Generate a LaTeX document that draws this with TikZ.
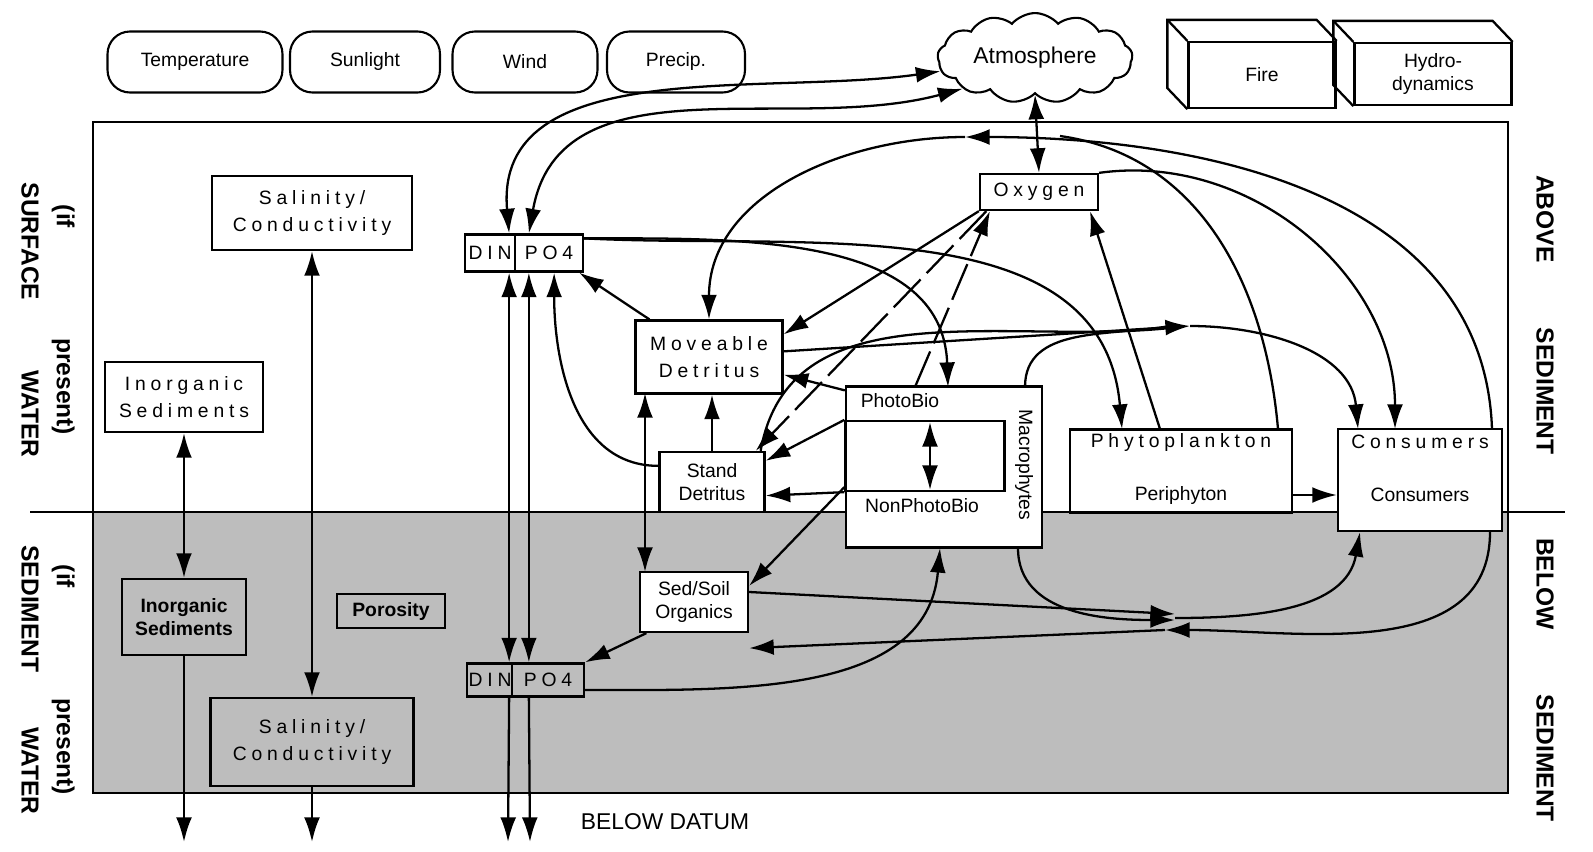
\documentclass[tikz,border=0pt]{standalone}
\usepackage{fontspec}
\setmainfont{Liberation Sans}
\usetikzlibrary{shapes.symbols, arrows.meta, positioning}
\definecolor{sedgray}{HTML}{BDBDBD}
\tikzstyle{driver} = [draw, line width=1.2pt, rounded corners=0.45cm, align=center, font=\fontsize{11}{13}\selectfont]
\tikzstyle{pool} = [draw, line width=1.3pt, fill=white, inner sep=1pt, align=center, font=\fontsize{11}{13}\selectfont]
\tikzstyle{spaced} = [font=\fontsize{11}{15}\selectfont\addfontfeatures{LetterSpace=25}]
\tikzstyle{side} = [rotate=-90, font=\bfseries\fontsize{14}{20}\selectfont, align=center]
\tikzstyle{flow} = [line width=1.3pt, ->, >={Latex[length=14pt,width=9pt]}]
\tikzstyle{both} = [line width=1.3pt, <->, >={Latex[length=14pt,width=9pt]}]
\tikzstyle{line} = [line width=1.3pt]
\begin{document}
\begin{tikzpicture}[x=0.02cm, y=-0.02cm]
\useasboundingbox (0,0) rectangle (1593,852);
% background regions
\fill[sedgray] (93,512) rectangle (1508,793);
\draw[line width=1.3pt] (93,122) rectangle (1508,793);
\draw[line width=1.3pt] (30,512) -- (1565,512);
% drivers
\node (temp) [driver, minimum width=3.5cm, minimum height=1.22cm] at (195,62) {Temperature};
\node (sun) [driver, minimum width=3cm, minimum height=1.22cm] at (365,62) {Sunlight};
\node (wind) [driver, minimum width=2.9cm, minimum height=1.22cm] at (525,62) {Wind};
\node (precip) [driver, minimum width=2.76cm, minimum height=1.22cm] at (676,62) {Precip.};
\node (atmos) [cloud, draw, line width=1.2pt, cloud puffs=13, cloud puff arc=100, aspect=2.4, minimum width=3.9cm, minimum height=1.7cm, inner sep=0pt, font=\fontsize{13}{15}\selectfont] at (1035,58) {Atmosphere};
\node (fire) [pool, minimum width=2.94cm, minimum height=1.32cm] at (1262,75) {Fire};
\node (hydro) [pool, minimum width=3.14cm, minimum height=1.24cm] at (1433,74) {Hydro-\\dynamics};
\draw[line width=1.3pt] (fire.south west) -- ++(-20,-21) |- ([shift={(-20,-21)}]fire.north east) -- (fire.north east);
\draw[line width=1.3pt] (fire.north west) -- ++(-20,-21);
\draw[line width=1.3pt] (hydro.south west) -- ++(-20,-21) |- ([shift={(-20,-21)}]hydro.north east) -- (hydro.north east);
\draw[line width=1.3pt] (hydro.north west) -- ++(-20,-21);
% surface water pools
\node (salinU) [pool, spaced, minimum width=4cm, minimum height=1.48cm] at (312,213) {Salinity/\\Conductivity};
\node (inorgU) [pool, spaced, minimum width=3.16cm, minimum height=1.4cm] at (184,397) {Inorganic\\Sediments};
\node (dinU) [pool, spaced, minimum width=1cm, minimum height=0.74cm] at (490,253) {DIN};
\node (po4U) [pool, spaced, minimum width=1.36cm, minimum height=0.74cm] at (549,253) {PO4};
\node (oxygen) [pool, spaced, minimum width=2.36cm, minimum height=0.72cm] at (1039,192) {Oxygen};
\node (moveable) [pool, spaced, minimum width=2.94cm, minimum height=1.46cm] at (709,357) {Moveable\\Detritus};
\node (stand) [pool, minimum width=2.1cm, minimum height=1.2cm] at (712,482) {Stand\\Detritus};
\node (macro) [pool, minimum width=3.92cm, minimum height=3.22cm] at (944,467) {};
\node (photo) [pool, minimum width=3.18cm, minimum height=1.4cm] at (925,456) {};
\node (photolbl) at (900,401) {\fontsize{11}{13}\selectfont PhotoBio};
\node (nonphotolbl) at (922,506) {\fontsize{11}{13}\selectfont NonPhotoBio};
\node (macrolbl) [rotate=-90, font=\fontsize{11}{13}\selectfont] at (1024,465) {Macrophytes};
\node (phyto) [pool, minimum width=4.44cm, minimum height=1.66cm] at (1181,471) {};
\node (phytolbl) [spaced] at (1181,442) {Phytoplankton};
\node (perilbl) [font=\fontsize{11}{13}\selectfont] at (1181,495) {Periphyton};
\node (cons) [pool, minimum width=3.28cm, minimum height=2.04cm] at (1420,480) {};
\node (conslbl) [spaced] at (1420,442) {Consumers};
\node (cons2lbl) [font=\fontsize{11}{13}\selectfont] at (1420,495) {Consumers};
% sediment water pools
\node (sedsoil) [pool, minimum width=2.16cm, minimum height=1.2cm] at (694,602) {Sed/Soil\\Organics};
\node (poros) [pool, fill=sedgray, font=\bfseries\fontsize{11}{13}\selectfont, minimum width=2.16cm, minimum height=0.68cm] at (391,611) {Porosity};
\node (inorgL) [pool, fill=sedgray, font=\bfseries\fontsize{11}{13}\selectfont, minimum width=2.48cm, minimum height=1.52cm] at (184,617) {Inorganic\\Sediments};
\node (dinL) [pool, fill=sedgray, spaced, minimum width=0.9cm, minimum height=0.66cm] at (490,680) {DIN};
\node (po4L) [pool, fill=sedgray, spaced, minimum width=1.44cm, minimum height=0.66cm] at (548,680) {PO4};
\node (salinL) [pool, fill=sedgray, spaced, minimum width=4.06cm, minimum height=1.76cm] at (312,742) {Salinity/\\Conductivity};
% side and bottom labels
\node (surf) [side] at (48,320) {(if\hspace{2.2cm}present)\\SURFACE\hspace{1.4cm}WATER};
\node (sedw) [side] at (48,680) {(if\hspace{2.2cm}present)\\SEDIMENT\hspace{1.1cm}WATER};
\node (above) [side] at (1545,315) {ABOVE\hspace{1.3cm}SEDIMENT};
\node (below) [side] at (1545,680) {BELOW\hspace{1.3cm}SEDIMENT};
\node (datum) [font=\fontsize{13}{15}\selectfont] at (665,822) {BELOW DATUM};
\coordinate (b1) at (184,842);
\coordinate (b2) at (312,842);
\coordinate (b3) at (508,842);
\coordinate (b4) at (530,842);
% vertical exchanges
\draw [both] (inorgU) -- (inorgL);
\draw [flow] (inorgL) -- (b1);
\draw [both] (salinU) -- (salinL);
\draw [flow] (salinL) -- (b2);
\draw [both] ([xshift=-0.14cm]dinU.south east) -- ([xshift=-0.14cm]dinU.south east |- dinL.north);
\draw [both] ([xshift=0.3cm]po4U.south west) -- ([xshift=0.3cm]po4U.south west |- po4L.north);
\draw [flow] ([xshift=-0.14cm]dinU.south east |- dinL.south) -- (b3);
\draw [flow] ([xshift=0.3cm]po4U.south west |- po4L.south) -- (b4);
\draw [both] (atmos.south) -- (oxygen.north);
% atmosphere exchange
\draw [both] ([xshift=-0.14cm]dinU.north east) to[out=95,in=188] (atmos.188);
\draw [both] ([xshift=0.3cm]po4U.north west) to[out=80,in=195] (atmos.203);
% arches from the right
\draw [flow] (1492,429) to[out=92,in=0] (965,137);
\draw [flow] (965,137) to[out=180,in=90] (moveable.north);
\draw [line] (1278,429) to[out=95,in=-8] (1060,136);
\draw [flow] (oxygen.north east) to[out=8,in=90] (1395,429);
% oxygen
\draw [flow] (oxygen.south west) -- ([yshift=-0.3cm]moveable.north east);
\draw [flow, dash pattern=on 22pt off 5pt] ([xshift=0.15cm]oxygen.south west) -- ([xshift=-0.2cm]stand.north east);
\draw [flow, dash pattern=on 22pt off 5pt] (915,387) -- (990,211);
\draw [flow] (1160,429) -- (1090,211);
% nutrients uptake
\draw [flow] ([yshift=-0.1cm]po4U.north east) to[out=0,in=92] (948,387);
\draw [flow] ([yshift=-0.1cm]po4U.north east) to[out=-3,in=95] (1122,429);
% detritus flows
\draw [flow] ([yshift=-0.64cm]moveable.north east) -- (1190,326);
\draw [line] ([xshift=-0.1cm]stand.north east) to[out=80,in=186] (1170,328);
\draw [line] (1025,387) to[out=90,in=190] (1170,326);
\draw [flow] (1190,326) to[out=0,in=95] (1358,429);
\draw [flow] ([xshift=0.3cm]moveable.north west) -- ([xshift=-0.1cm]po4U.south east);
\draw [flow] ([yshift=-0.3cm]stand.north west) to[out=180,in=-90] ([xshift=-0.6cm]po4U.south east);
\draw [flow] (stand.north) -- (stand.north |- moveable.south);
\draw [both] (645,393) -- (645,572);
\draw [flow] (photo.north west) -- ([yshift=-0.2cm]stand.north east);
\draw [flow] (photo.south west) -- ([yshift=0.35cm]stand.south east);
\draw [flow] ([yshift=-0.1cm]macro.north west) -- ([yshift=0.4cm]moveable.south east);
\draw [both] (930,422) -- (930,490);
\draw [flow] ([yshift=0.1cm]photo.south west) -- ([yshift=-0.3cm]sedsoil.north east);
% sediment flows
\draw [flow] ([yshift=0.2cm]sedsoil.east) -- (1175,614);
\draw [flow] (1018,548) to[out=-90,in=180] (1175,620);
\draw [flow] (1175,618) to[out=0,in=-100] (1360,532);
\draw [flow] (1490,532) to[out=-90,in=0] (1165,630);
\draw [flow] (1165,630) -- ([yshift=-0.3cm]sedsoil.south east);
\draw [flow] ([xshift=0.15cm]sedsoil.south west) -- (po4L.north east);
\draw [flow] ([yshift=-0.2cm]po4L.east) to[out=0,in=-95] (940,548);
\draw [flow] (phyto.east |- perilbl) -- (cons.west |- perilbl);
\end{tikzpicture}
\end{document}
